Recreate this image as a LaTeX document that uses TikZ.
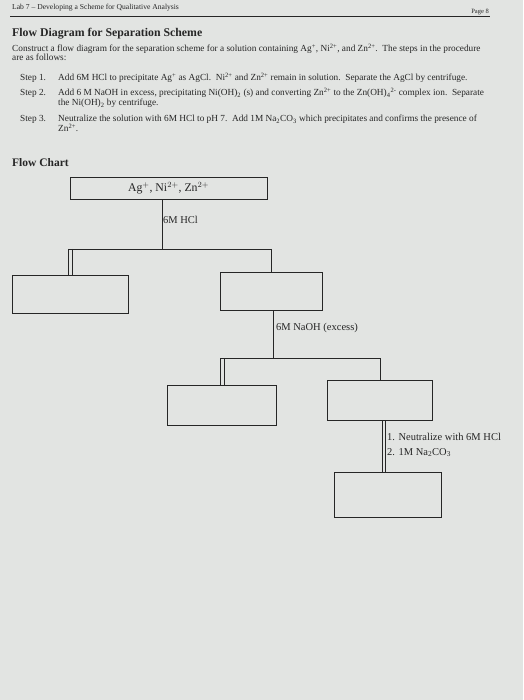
\documentclass[tikz,border=0pt]{standalone}
\usepackage{fontspec}
\setmainfont{Liberation Serif}
\usetikzlibrary{positioning}

\definecolor{paper}{RGB}{226,228,226}
\definecolor{ink}{RGB}{38,38,38}

\begin{document}
\begin{tikzpicture}[x=1pt, y=-1pt, ink,
    txt/.style={anchor=base west, inner sep=0pt, font=\fontsize{9.3}{11}\selectfont},
    box/.style={draw, line width=0.8pt, inner sep=0pt},
    link/.style={line width=0.8pt},
    cond/.style={anchor=west, inner sep=1pt, font=\fontsize{10.5}{12}\selectfont}]

\fill[paper] (0,0) rectangle (523,700);
\useasboundingbox (0,0) rectangle (523,700);

% Define header and text
\path (12,10) node[anchor=base west, inner sep=0pt, font=\fontsize{7.6}{9}\selectfont] (lab) {Lab 7 -- Developing a Scheme for Qualitative Analysis}
(489,14) node[anchor=base east, inner sep=0pt, font=\fontsize{6.5}{8}\selectfont] (page) {Page 8}
(12,37) node[anchor=base west, inner sep=0pt, font=\fontsize{11.8}{13}\bfseries] (title) {Flow Diagram for Separation Scheme}
(12,52) node[txt] (intro) {Construct a flow diagram for the separation scheme for a solution containing Ag\textsuperscript{+}, Ni\textsuperscript{2+}, and Zn\textsuperscript{2+}.\ \ The steps in the procedure}
(12,61) node[txt] (intro2) {are as follows:}
(20,81) node[txt] (s1) {Step 1.}
(58,81) node[txt] (t1) {Add 6M HCl to precipitate Ag\textsuperscript{+} as AgCl.\ \ Ni\textsuperscript{2+} and Zn\textsuperscript{2+} remain in solution.\ \ Separate the AgCl by centrifuge.}
(20,96) node[txt] (s2) {Step 2.}
(58,96) node[txt] (t2) {Add 6 M NaOH in excess, precipitating Ni(OH)\textsubscript{2} (s) and converting Zn\textsuperscript{2+} to the Zn(OH)\textsubscript{4}\textsuperscript{2-} complex ion.\ \ Separate}
(58,106) node[txt] (t2b) {the Ni(OH)\textsubscript{2} by centrifuge.}
(20,122) node[txt] (s3) {Step 3.}
(58,122) node[txt] (t3) {Neutralize the solution with 6M HCl to pH 7.\ \ Add 1M Na\textsubscript{2}CO\textsubscript{3} which precipitates and confirms the presence of}
(58,132) node[txt] (t3b) {Zn\textsuperscript{2+}.}
(12,167) node[anchor=base west, inner sep=0pt, font=\fontsize{11.5}{13}\bfseries] (chart) {Flow Chart}
;
\draw[line width=0.6pt] (10,16.5) -- (490,16.5);

% Boxes
\path (168.5,188) node[box, minimum width=197pt, minimum height=22pt, font=\fontsize{11.8}{13}\selectfont] (ions) {Ag$^{+}$, Ni$^{2+}$, Zn$^{2+}$}
(70,294) node[box, minimum width=116pt, minimum height=38pt] (agcl) {}
(271,291) node[box, minimum width=102pt, minimum height=38pt] (sol1) {}
(221.5,405) node[box, minimum width=109pt, minimum height=40pt] (nioh) {}
(379.5,400) node[box, minimum width=105pt, minimum height=40pt] (sol2) {}
(387.5,494.5) node[box, minimum width=107pt, minimum height=45pt] (znco) {}
;

% Junctions
\coordinate (hcl) at (162,249);
\coordinate (hclL) at (68,249);
\coordinate (hclL2) at (72,249);
\coordinate (hclR) at (271,249);
\coordinate (naoh) at (273,358);
\coordinate (naohL) at (220,358);
\coordinate (naohL2) at (224,358);
\coordinate (naohR) at (380,358);
\coordinate (neut) at (382,0);
\coordinate (neut2) at (385,0);

\draw[link] (ions.south -| hcl) -- (hcl);
\draw[link] (hclL) -- (hclR);
\draw[link] (hclL) -- (agcl.north -| hclL);
\draw[link] (hclL2) -- (agcl.north -| hclL2);
\draw[link] (hclR) -- (sol1.north);
\path (ions.south -| hcl) +(0,21) node[cond] (hcllab) {6M HCl};

\draw[link] (sol1.south -| naoh) -- (naoh);
\draw[link] (naohL) -- (naohR);
\draw[link] (naohL) -- (nioh.north -| naohL);
\draw[link] (naohL2) -- (nioh.north -| naohL2);
\draw[link] (naohR) -- (sol2.north -| naohR);
\path (sol1.south -| naoh) +(2,18) node[cond] (naohlab) {6M NaOH (excess)};

\draw[link] (sol2.south -| neut) -- (znco.north -| neut);
\draw[link] (sol2.south -| neut2) -- (znco.north -| neut2);
\path (sol2.south -| neut2) +(1,17) node[cond] (step1) {1. Neutralize with 6M HCl}
(step1.west) +(0,15) node[cond, anchor=west] (step2) {2. 1M Na\textsubscript{2}CO\textsubscript{3}};

\end{tikzpicture}
\end{document}
